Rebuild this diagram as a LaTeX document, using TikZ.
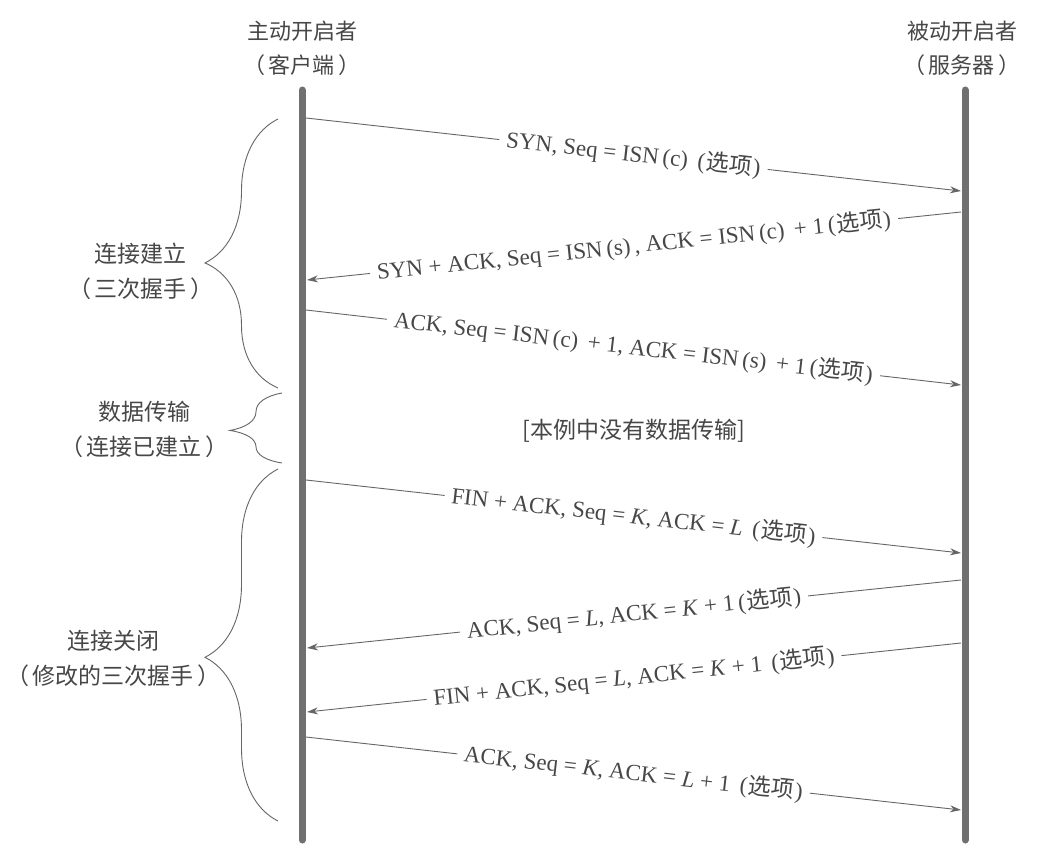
\documentclass[tikz,border=0pt]{standalone}
\usepackage{fontspec}
\setmainfont{Liberation Serif}
\newfontfamily\cjk{Noto Sans CJK SC}
\usetikzlibrary{arrows.meta,decorations.pathreplacing}
\definecolor{inkgray}{HTML}{474747}
\definecolor{linegray}{HTML}{666666}
\definecolor{bargray}{HTML}{707070}
\tikzset{
  timeline/.style={line width=7pt, bargray, line cap=round},
  msg/.style={linegray, line width=0.9pt, -{Stealth[length=11pt,width=7pt]}},
  msglabel/.style={sloped, fill=white, inner sep=7pt, text=inkgray, font=\fontsize{23}{26}\selectfont},
  headtext/.style={align=center, text=inkgray, font=\cjk\fontsize{22}{34}\selectfont},
  phasebrace/.style={linegray, line width=0.9pt, decorate, decoration={brace, mirror, amplitude=#1, aspect=0.535}},
  phasetext/.style={anchor=east, inner sep=0pt, align=center, text=inkgray, font=\cjk\fontsize{23}{35}\selectfont}
}
\newcommand{\opt}{(\kern1pt{\cjk 选项}\kern1pt)}
\begin{document}
\begin{tikzpicture}[x=1pt, y=-1pt]
\useasboundingbox[fill=white] (0,0) rectangle (1038,864);
\node[headtext] (client) at (302,48) {主动开启者\\（\,客户端\,）};
\node[headtext] (server) at (962,48) {被动开启者\\（\,服务器\,）};
\coordinate (ctop) at (302,90);
\coordinate (cbot) at (302,840);
\coordinate (stop) at (965,90);
\coordinate (sbot) at (965,840);
\draw[timeline] (ctop) -- (cbot);
\draw[timeline] (stop) -- (sbot);
\coordinate (c1) at (306,118);
\coordinate (s1) at (961,191);
\coordinate (s2) at (961,212);
\coordinate (c2) at (307,280);
\coordinate (c3) at (306,310);
\coordinate (s3) at (961,385);
\coordinate (c5) at (306,480);
\coordinate (s5) at (961,553);
\coordinate (s6) at (961,580);
\coordinate (c6) at (307,648);
\coordinate (s7) at (961,643);
\coordinate (c7) at (307,712);
\coordinate (c8) at (306,737);
\coordinate (s8) at (961,810);
\draw[msg] (c1) -- node[msglabel] (m1) {SYN, Seq = ISN\,(c)\, \opt} (s1);
\draw[msg] (s2) -- node[msglabel] (m2) {SYN + ACK, Seq = ISN\,(s)\,, ACK = ISN\,(c)\, + 1\,\opt} (c2);
\draw[msg] (c3) -- node[msglabel] (m3) {ACK, Seq = ISN\,(c)\, + 1, ACK = ISN\,(s)\, + 1\,\opt} (s3);
\node[text=inkgray, font=\cjk\fontsize{23}{26}\selectfont] (nodata) at (634,431) {[本例中没有数据传输]};
\draw[msg] (c5) -- node[msglabel] (m5) {FIN + ACK, Seq = \textit{K}, ACK = \textit{L}\, \opt} (s5);
\draw[msg] (s6) -- node[msglabel] (m6) {ACK, Seq = \textit{L}, ACK = \textit{K} + 1\,\opt} (c6);
\draw[msg] (s7) -- node[msglabel] (m7) {FIN + ACK, Seq = \textit{L}, ACK = \textit{K} + 1\, \opt} (c7);
\draw[msg] (c8) -- node[msglabel] (m8) {ACK, Seq = \textit{K}, ACK = \textit{L} + 1\, \opt} (s8);
\coordinate (b1top) at (278,119);
\coordinate (b1bot) at (278,388);
\coordinate (b2top) at (282,393);
\coordinate (b2bot) at (282,463);
\coordinate (b3top) at (278,469);
\coordinate (b3bot) at (278,821);
\draw[phasebrace=73pt] (b1top) -- (b1bot);
\draw[phasebrace=52pt] (b2top) -- (b2bot);
\draw[phasebrace=73pt] (b3top) -- (b3bot);
\coordinate (tip1) at (205,263);
\coordinate (tip2) at (230,430);
\coordinate (tip3) at (205,655);
\node[phasetext] (setup) at ([xshift=9pt, yshift=-8pt]tip1) {连接建立\\（\,三次握手\,）};
\node[phasetext] (transfer) at ([xshift=-1pt, yshift=1pt]tip2) {数据传输\\（\,连接已建立\,）};
\node[phasetext] (close) at ([xshift=16pt, yshift=-3pt]tip3) {连接关闭\\（\,修改的三次握手\,）};
\end{tikzpicture}
\end{document}
